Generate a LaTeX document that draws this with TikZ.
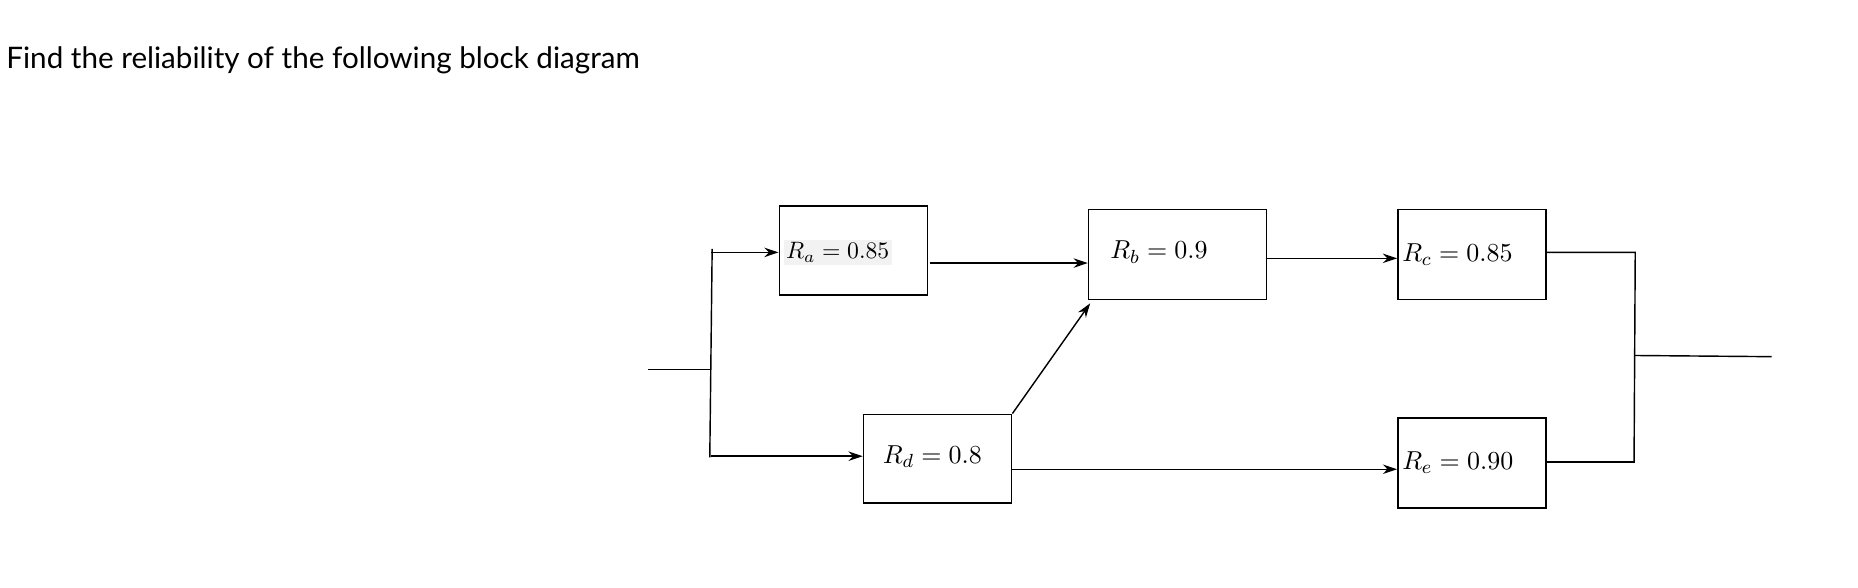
\documentclass[tikz,border=0pt]{standalone}
\usepackage{fontspec}
\setmainfont{Lato}
\usetikzlibrary{arrows.meta}
\begin{document}
\begin{tikzpicture}[x=0.5pt,y=-0.5pt,
  blk/.style={draw,line width=0.7pt,anchor=north west,inner sep=0pt,font=\fontsize{11}{13}\selectfont},
  arr/.style={-{Stealth[length=6pt,width=4pt]},line width=0.6pt},
  ln/.style={line width=0.6pt}]
\useasboundingbox (0,0) rectangle (1568,496);
\node[anchor=base west,font=\fontsize{12.5}{15}\selectfont,inner sep=0pt] (title) at (5,58) {Find the reliability of the following block diagram};
\node[blk,minimum width=62.5pt,minimum height=37.5pt] (ra) at (657,173) {};
\node[fill=black!5,inner sep=1pt,anchor=west] (ral) at ([xshift=2pt,yshift=-1pt]ra.west) {$R_a = 0.85$};
\node[blk,minimum width=75pt,minimum height=38pt] (rb) at (918,176) {};
\node[anchor=west,font=\fontsize{11}{13}\selectfont] at ([xshift=6pt,yshift=1pt]rb.west) {$R_b = 0.9$};
\node[blk,minimum width=62.5pt,minimum height=38pt] (rc) at (1179,176) {};
\node[anchor=west,font=\fontsize{11}{13}\selectfont,inner sep=1pt] at ([xshift=1pt]rc.west) {$R_c = 0.85$};
\node[blk,minimum width=62.5pt,minimum height=37.5pt] (rd) at (728,349) {};
\node[anchor=west,font=\fontsize{11}{13}\selectfont] at ([xshift=5pt,yshift=1pt]rd.west) {$R_d = 0.8$};
\node[blk,minimum width=62.5pt,minimum height=38pt] (re) at (1179,352) {};
\node[anchor=west,font=\fontsize{11}{13}\selectfont,inner sep=1pt] at ([xshift=1pt]re.west) {$R_e = 0.90$};
\coordinate (in) at (547,312);
\coordinate (j1) at (600,312);
\coordinate (jt) at (600,213);
\coordinate (jb) at (600,385);
\draw[ln] (in) -- (j1);
\draw[ln] (601,210) -- (599,386);
\draw[arr] (jt) -- (ra.west |- jt);
\draw[arr] (jb) -- (rd.west |- jb);
\draw[arr] (785,222) -- (rb.west |- 0,222);
\draw[arr] (rd.north east) -- (920,256);
\draw[arr] (853,396) -- (re.west |- 0,396);
\draw[arr] (rb.east |- 0,218) -- (rc.west |- 0,218);
\coordinate (kt) at (1380,213);
\coordinate (kb) at (1380,390);
\draw[ln] (rc.east |- kt) -- (kt) -- (1379,390);
\draw[ln] (re.east |- kb) -- (kb);
\coordinate (out) at (1495,301);
\draw[ln] (1379,300) -- (out);
\end{tikzpicture}
\end{document}
